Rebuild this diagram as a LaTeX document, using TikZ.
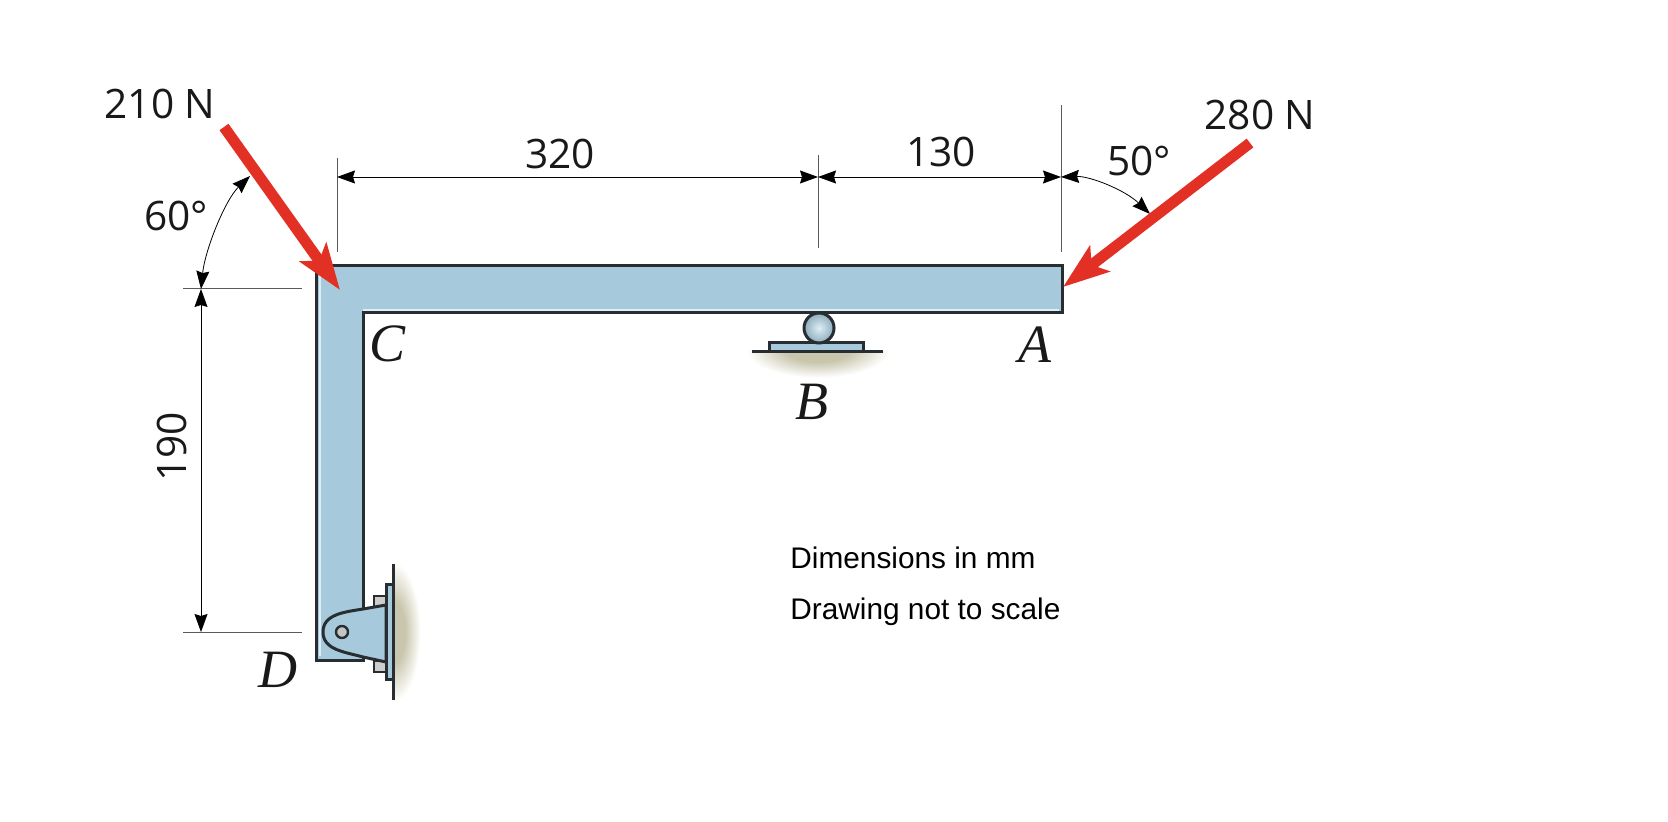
\documentclass[tikz,border=0pt]{standalone}
\usepackage{fontspec}
\setmainfont{Liberation Sans}
\newfontfamily\dimfont{Open Sans}
\newfontfamily\partfont{Liberation Serif}
\usepackage{xcolor}
\usetikzlibrary{arrows.meta,positioning}
\definecolor{bkblue}{RGB}{166,202,220}
\definecolor{bklight}{RGB}{222,238,246}
\definecolor{bkline}{RGB}{40,45,50}
\definecolor{bkred}{RGB}{226,48,36}
\definecolor{bksand}{RGB}{200,198,172}
\definecolor{bkgray}{RGB}{90,90,90}
\pgfdeclareradialshading{softspot}{\pgfpoint{0bp}{0bp}}{color(0bp)=(bksand); color(10bp)=(bksand); color(23bp)=(white); color(50bp)=(white)}
\tikzstyle{member} = [fill=bkblue, draw=bkline, line width=1.5pt, line join=miter]
\tikzstyle{force} = [draw=bkred, line width=5.5pt, -{Stealth[length=23pt, width=16pt, inset=5pt, color=bkred]}]
\tikzstyle{dimline} = [draw=black, line width=0.4pt, {Stealth[length=9pt, width=6.5pt, inset=1pt]}-{Stealth[length=9pt, width=6.5pt, inset=1pt]}]
\tikzstyle{extline} = [draw=bkgray, line width=0.5pt]
\tikzstyle{dimtext} = [font=\dimfont\fontsize{20.3}{20.3}\selectfont, text=black!90, inner sep=0pt]
\tikzstyle{parttext} = [font=\partfont\itshape\fontsize{27}{27}\selectfont, text=black!90, inner sep=0pt]
\tikzstyle{notetext} = [font=\fontsize{14.9}{15}\selectfont, anchor=west, inner sep=0pt]
\begin{document}
\begin{tikzpicture}[x=0.5pt, y=-0.5pt]
\useasboundingbox (0,0) rectangle (1668,822);
% Shadows under the supports
\begin{scope}
\clip (700,352) rectangle (940,400);
\shade[shading=softspot] (818,350) ellipse (78 and 30);
\end{scope}
\begin{scope}
\clip (393,540) rectangle (440,720);
\shade[shading=softspot] (393,632) ellipse (30 and 76);
\end{scope}

% Bent member
\draw[member] (316,266) -- (1062,266) -- (1062,313) -- (363,313) -- (363,660) -- (316,660) -- cycle;
\draw[bklight, line width=1.2pt] (363,310) -- (1059,310);
\draw[bklight, line width=1.2pt] (320,272) -- (320,656);

% Roller at B
\draw[member] (769,352) rectangle (863,343);
\draw[bkline, line width=1.5pt] (752,352) -- (883,352);
\draw[draw=bkline, line width=1.5pt, inner color=bklight, outer color=bkblue!85!black] (819,328) circle (15);

% Bracket at D
\draw[draw=bkline, line width=1pt, fill=bkgray!30] (374,596) rectangle (386,607);
\draw[draw=bkline, line width=1pt, fill=bkgray!30] (374,661) rectangle (386,672);
\draw[member] (386,584) rectangle (393,679);
\draw[bkline, line width=1.5pt] (393,564) -- (393,700);
\draw[member] (386,605) -- (363,609) .. controls (345,612) and (323,614) .. (323,632) .. controls (323,650) and (345,652) .. (363,657) -- (386,662) -- cycle;
\draw[draw=bkline, line width=1.2pt, fill=bkgray!35] (342,632) circle (6);

% Named points
\coordinate (dimC) at (337,177);
\coordinate (dimB) at (818,177);
\coordinate (dimA) at (1061,177);
\coordinate (topC) at (337,158);
\coordinate (lowC) at (337,252);
\coordinate (topB) at (818,155);
\coordinate (lowB) at (818,248);
\coordinate (topA) at (1061,105);
\coordinate (lowA) at (1061,252);
\coordinate (extCa) at (183,289);
\coordinate (extCb) at (302,289);
\coordinate (extDa) at (183,632);
\coordinate (extDb) at (302,632);
\coordinate (dimCv) at (201,289);
\coordinate (dimDv) at (201,632);
\coordinate (tailL) at (224,127);
\coordinate (tipL) at (340,290);
\coordinate (tailR) at (1250,143);
\coordinate (tipR) at (1063,287);
\coordinate (angL) at (250,176);
\coordinate (angR) at (1150,214);

% Extension and dimension lines
\draw[extline] (topC) -- (lowC);
\draw[extline] (topB) -- (lowB);
\draw[extline] (topA) -- (lowA);
\draw[extline] (extCa) -- (extCb);
\draw[extline] (extDa) -- (extDb);
\draw[dimline] (dimC) -- (dimB);
\draw[dimline] (dimB) -- (dimA);
\draw[dimline] (dimCv) -- (dimDv);
\draw[dimline] (dimCv) .. controls (205,250) and (225,200) .. (angL);
\draw[dimline] (dimA) .. controls (1090,176) and (1125,190) .. (angR);

% Forces
\draw[force] (tailL) -- (tipL);
\draw[force] (tailR) -- (tipR);

% Labels
\node (lf210) [dimtext] at (160,104) {210 N};
\node (lf280) [dimtext] at (1260,115) {280 N};
\node (ld320) [dimtext] at (560,154) {320};
\node (ld130) [dimtext] at (941,152) {130};
\node (ld190) [dimtext, rotate=90] at (172,447) {190};
\node (la60) [dimtext] at (176,216) {60°};
\node (la50) [dimtext] at (1139,161) {50°};
\node (lpA) [parttext] at (1035,345) {A};
\node (lpB) [parttext] at (812,402) {B};
\node (lpC) [parttext] at (388,344) {C};
\node (lpD) [parttext] at (278,670) {D};
\node (nDim) [notetext] at (790,558) {Dimensions in mm};
\node (nScale) [notetext] at (790,612) {Drawing not to scale};
\end{tikzpicture}
\end{document}
